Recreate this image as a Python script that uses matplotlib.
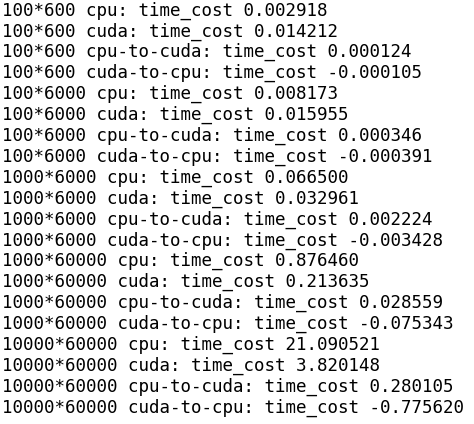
import matplotlib
matplotlib.use("Agg")
import matplotlib.pyplot as plt

sizes = ["100*600"]*4 + ["100*6000"]*4 + ["1000*6000"]*4 + ["1000*60000"]*4 + ["10000*60000"]*4
modes = ["cpu", "cuda", "cpu-to-cuda", "cuda-to-cpu"]*5
costs = ["0.002918", "0.014212", "0.000124", "-0.000105",
         "0.008173", "0.015955", "0.000346", "-0.000391",
         "0.066500", "0.032961", "0.002224", "-0.003428",
         "0.876460", "0.213635", "0.028559", "-0.075343",
         "21.090521", "3.820148", "0.280105", "-0.775620"]

W, H = 474, 424
fig = plt.figure(figsize=(W/100, H/100), dpi=100)
fig.patch.set_facecolor("white")
for i, (s, m, c) in enumerate(zip(sizes, modes, costs)):
    y = 10.5 + 20.9 * i
    fig.text(2/W, 1 - y/H, f"{s} {m}: time_cost {c}", family="DejaVu Sans Mono",
             fontsize=12.6, va="center", ha="left", color="black")
fig.savefig("out.png", dpi=100)
